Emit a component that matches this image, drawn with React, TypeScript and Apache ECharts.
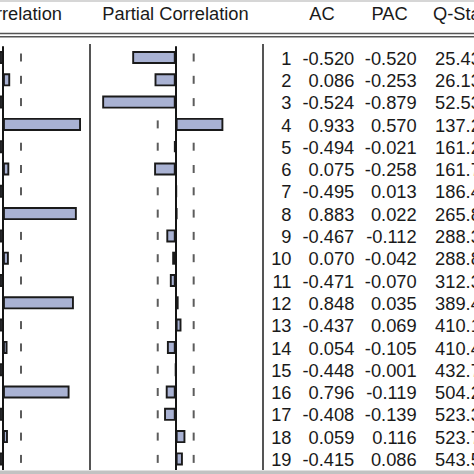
import React, { useEffect, useRef } from "react";
import * as echarts from "echarts";

// Correlogram: lag, autocorrelation, partial autocorrelation, Ljung-Box Q statistic
const lags = [1, 2, 3, 4, 5, 6, 7, 8, 9, 10, 11, 12, 13, 14, 15, 16, 17, 18, 19];
const acValues = [
  -0.52, 0.086, -0.524, 0.933, -0.494, 0.075, -0.495, 0.883, -0.467, 0.07,
  -0.471, 0.848, -0.437, 0.054, -0.448, 0.796, -0.408, 0.059, -0.415,
];
const pacValues = [
  -0.52, -0.253, -0.879, 0.57, -0.021, -0.258, 0.013, 0.022, -0.112, -0.042,
  -0.07, 0.035, 0.069, -0.105, -0.001, -0.119, -0.139, 0.116, 0.086,
];
const qStats = [
  25.434, 26.132, 52.531, 137.22, 161.23, 161.78, 186.44, 265.89, 288.31,
  288.85, 312.35, 389.46, 410.13, 410.44, 432.72, 504.25, 523.3, 523.74, 543.56,
];
// approximate two-standard-error band
const confBand = 0.215;

const FONT = "'Liberation Sans', Arial, sans-serif";
const TEXT = "#1a1a1a";
const BAR_FILL = "#a9b2d3";
const BAR_EDGE = "#1a1a1a";
const RULE = "#555555";

const ROW_TOP = 46.35;
const ROW_H = 22.3;
const PLOT_H = ROW_H * lags.length;

const fmtCorr = (v: number) => v.toFixed(3);
const fmtQ = (v: number) => (v < 100 ? v.toFixed(3) : v.toFixed(2));

function bandDashes() {
  const out: number[][] = [];
  lags.forEach((_, i) => {
    out.push([confBand, i]);
    out.push([-confBand, i]);
  });
  return out;
}

function barSeries(values: number[], axis: number) {
  return {
    type: "bar",
    xAxisIndex: axis,
    yAxisIndex: axis,
    data: values,
    barWidth: 13,
    z: 3,
    itemStyle: { color: BAR_FILL, borderColor: BAR_EDGE, borderWidth: 1.9 },
    markLine: {
      silent: true,
      symbol: ["none", "none"],
      label: { show: false },
      lineStyle: { color: "#151515", width: 2, type: "solid" },
      data: [{ xAxis: 0 }],
    },
  };
}

function dashSeries(axis: number) {
  return {
    type: "scatter",
    xAxisIndex: axis,
    yAxisIndex: axis,
    data: bandDashes(),
    symbol: "rect",
    symbolSize: [2, 8],
    clip: true,
    z: 2,
    itemStyle: { color: "#333333" },
  };
}

export default function App() {
  const ref = useRef<HTMLDivElement>(null);

  useEffect(() => {
    if (!ref.current) return;
    const chart = echarts.init(ref.current, undefined, { renderer: "svg" });

    const catAxis = (gridIndex: number) => ({
      type: "category",
      gridIndex,
      data: lags.map(String),
      inverse: true,
      axisLine: { show: false },
      axisTick: { show: false },
      axisLabel: { show: false },
      splitLine: { show: false },
    });
    const valAxis = (gridIndex: number, min: number, max: number) => ({
      type: "value",
      gridIndex,
      min,
      max,
      axisLine: { show: false },
      axisTick: { show: false },
      axisLabel: { show: false },
      splitLine: { show: false },
    });

    chart.setOption({
      animation: false,
      backgroundColor: "#ffffff",
      grid: [
        { left: 0, top: ROW_TOP, width: 86.6, height: PLOT_H },
        { left: 92.1, top: ROW_TOP, width: 167.2, height: PLOT_H },
      ],
      xAxis: [valAxis(0, -0.0359, 1), valAxis(1, -1, 1)],
      yAxis: [catAxis(0), catAxis(1)],
      series: [
        dashSeries(0),
        barSeries(acValues, 0),
        dashSeries(1),
        barSeries(pacValues, 1),
      ],
    });

    // table columns and frame, rows placed through the category axis
    const rowY = (i: number) =>
      chart.convertToPixel({ yAxisIndex: 0 }, i) as unknown as number;
    const textStyle = (
      text: string,
      x: number,
      y: number,
      align: string
    ) => ({
      type: "text",
      x,
      y,
      silent: true,
      style: {
        text,
        fill: TEXT,
        font: `18.3px ${FONT}`,
        textAlign: align,
        textVerticalAlign: "middle",
      },
    });

    const cells: any[] = [];
    lags.forEach((lag, i) => {
      const y = rowY(i) + 0.6;
      cells.push(textStyle(String(lag), 291.5, y, "right"));
      cells.push(textStyle(fmtCorr(acValues[i]), 354.3, y, "right"));
      cells.push(textStyle(fmtCorr(pacValues[i]), 416.7, y, "right"));
      cells.push(textStyle(fmtQ(qStats[i]), 491, y, "right"));
    });

    const vline = (x: number, color: string) => ({
      type: "line",
      silent: true,
      shape: { x1: x, y1: 44, x2: x, y2: 470 },
      style: { stroke: color, lineWidth: 2 },
    });
    const hline = (y: number) => ({
      type: "line",
      silent: true,
      shape: { x1: 0, y1: y, x2: 474, y2: y },
      style: { stroke: RULE, lineWidth: 1.6 },
    });

    chart.setOption({
      graphic: [
        {
          type: "rect",
          silent: true,
          shape: { x: 0, y: 0, width: 474, height: 2 },
          style: { fill: "#d6d6d6" },
        },
        {
          type: "rect",
          silent: true,
          shape: { x: 0, y: 470.5, width: 474, height: 4 },
          style: { fill: "#c2c2c2" },
        },
        textStyle("Autocorrelation", 62, 13, "right"),
        textStyle("Partial Correlation", 175.5, 13, "center"),
        textStyle("AC", 322, 13, "center"),
        textStyle("PAC", 389.5, 13, "center"),
        textStyle("Q-Stat", 433, 13, "left"),
        hline(33.5),
        hline(36.8),
        vline(90, RULE),
        vline(263, RULE),
        ...cells,
      ],
    });

    return () => chart.dispose();
  }, []);

  return (
    <div
      ref={ref}
      style={{ position: "fixed", left: 0, top: 0, width: 474, height: 474 }}
    />
  );
}
